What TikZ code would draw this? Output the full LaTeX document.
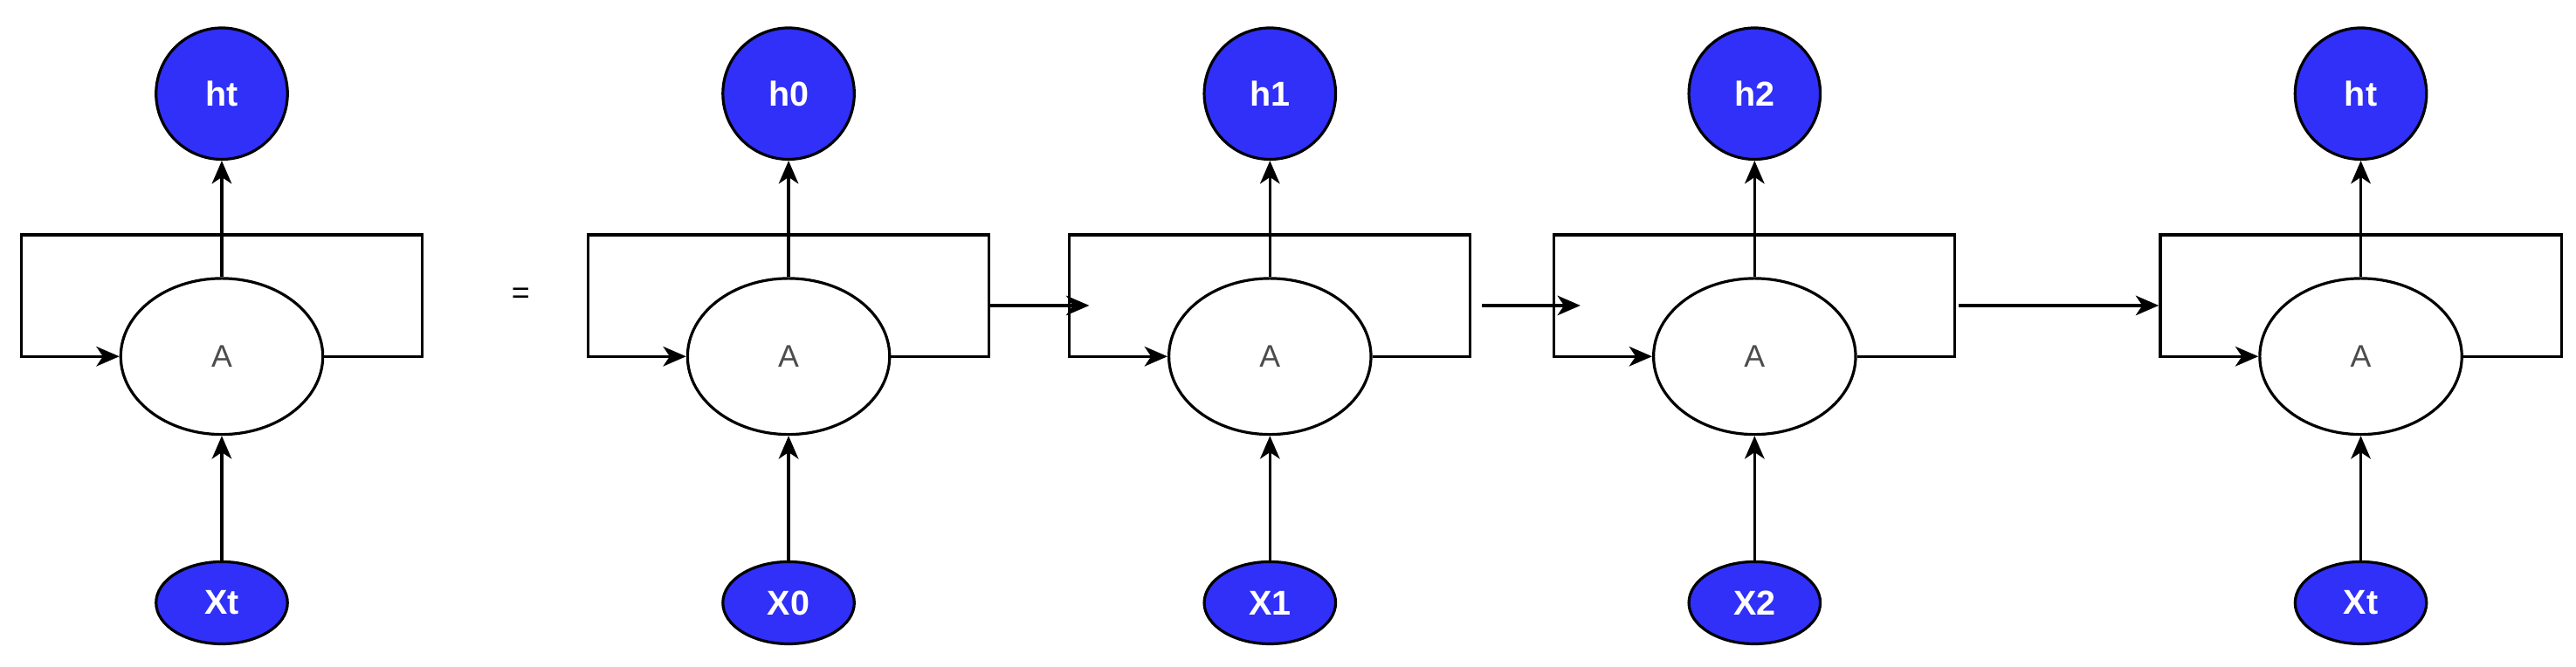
\documentclass[tikz,border=0pt]{standalone}
\usepackage{fontspec}
\setmainfont{Liberation Sans}
\usetikzlibrary{arrows.meta,shapes.geometric}
\definecolor{nodeblue}{HTML}{3030F8}
\begin{document}
\begin{tikzpicture}[x=1pt,y=-1pt,line width=1.7pt,
  arr/.style={-{Stealth[length=14pt,width=12pt,inset=4pt]}},
  hnode/.style={ellipse,draw=black,fill=nodeblue,minimum width=80pt,minimum height=80pt,inner sep=0pt,text=white,font=\bfseries\fontsize{21}{21}\selectfont},
  xnode/.style={ellipse,draw=black,fill=nodeblue,minimum width=80pt,minimum height=50pt,inner sep=0pt,text=white,font=\bfseries\fontsize{21}{21}\selectfont},
  anode/.style={ellipse,draw=black,fill=white,minimum width=123pt,minimum height=95pt,inner sep=0pt,text=black!70,font=\fontsize{19}{19}\selectfont}]
\useasboundingbox (0,0) rectangle (1568,406);
\foreach \n/\cx/\hl/\xl in {a/135/ht/Xt,b/480/h0/X0,c/773/h1/X1,d/1068/h2/X2,e/1437/ht/Xt}{
  \node[hnode] (h\n) at (\cx,57) {\hl};
  \node[anode] (A\n) at (\cx,217) {A};
  \node[xnode] (x\n) at (\cx,367) {\xl};
  \coordinate (tl\n) at (\cx-122,143);
  \coordinate (bl\n) at (\cx-122,217);
  \coordinate (tr\n) at (\cx+122,143);
  \coordinate (br\n) at (\cx+122,217);
  \draw[arr] (A\n.north) -- (h\n.south);
  \draw[arr] (x\n.north) -- (A\n.south);
  \draw[arr] (A\n.east) -- (br\n) -- (tr\n) -- (tl\n) -- (bl\n) -- (A\n.west);
}
\node[font=\fontsize{19}{19}\selectfont] (eq) at (317,180) {=};
\coordinate (s1) at (602,186); \coordinate (e1) at (663,186);
\coordinate (s2) at (902,186); \coordinate (e2) at (962,186);
\coordinate (s3) at (1192,186); \coordinate (e3) at (1314,186);
\draw[arr] (s1) -- (e1);
\draw[arr] (s2) -- (e2);
\draw[arr] (s3) -- (e3);
\end{tikzpicture}
\end{document}
